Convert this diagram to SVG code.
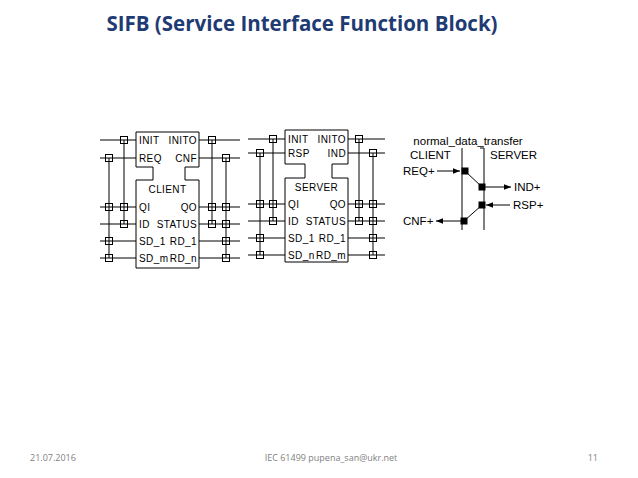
<svg xmlns="http://www.w3.org/2000/svg" width="638" height="478" viewBox="0 0 638 478">
<style>
.l{stroke:#000;stroke-width:1;fill:none}
.s{stroke:#000;stroke-width:1;fill:none}
.t{font-family:"Liberation Sans",Arial,sans-serif;font-size:10px;letter-spacing:0.4px;fill:#000}
.t2{font-family:"Liberation Sans",Arial,sans-serif;font-size:11.5px;fill:#000}
.ft{font-family:"Open Sans","Liberation Sans",sans-serif;font-size:9px;fill:#7f7f7f}
</style>
<defs>
<marker id="ar" viewBox="0 0 10 10" refX="10" refY="5" markerWidth="7" markerHeight="7" orient="auto"><path d="M0,1 L10,5 L0,9z" fill="#000"/></marker>
<rect id="sq" x="-3.5" y="-3.5" width="7" height="7" class="s"/>
<rect id="bq" x="-3.5" y="-3.5" width="7" height="7" fill="#000"/>
</defs>
<rect width="638" height="478" fill="#fff"/>
<text x="302" y="31" text-anchor="middle" font-family="Open Sans,Liberation Sans,sans-serif" font-size="20.5" font-weight="bold" fill="#1f3b73">SIFB (Service Interface Function Block)</text>

<g id="client">
<path class="l" d="M136,132 H199 V167 H185 V180 H199 V268 H136 V180 H153 V167 H136 Z"/>
<text class="t" x="139" y="143.5">INIT</text><text class="t" x="197" y="143.5" text-anchor="end">INITO</text>
<text class="t" x="139" y="161.5">REQ</text><text class="t" x="197" y="161.5" text-anchor="end">CNF</text>
<text class="t" x="167.5" y="193" text-anchor="middle">CLIENT</text>
<text class="t" x="139" y="210.5">QI</text><text class="t" x="197" y="210.5" text-anchor="end">QO</text>
<text class="t" x="139" y="227.5">ID</text><text class="t" x="197" y="227.5" text-anchor="end">STATUS</text>
<text class="t" x="139" y="244.5">SD_1</text><text class="t" x="197" y="244.5" text-anchor="end">RD_1</text>
<text class="t" x="139" y="261.5">SD_m</text><text class="t" x="197" y="261.5" text-anchor="end">RD_n</text>
</g>
<g id="client-wires">
<path class="l" d="M100,140H136M100,158H136M100,207H136M100,224H136M100,241H136M100,258H136M109,158V258M124,140V224"/>
<path class="l" d="M199,140H240M199,158H240M199,207H240M199,224H240M199,241H240M199,258H240M212,140V224M226,158V258"/>
<use href="#sq" x="124" y="140"/><use href="#sq" x="109" y="158"/><use href="#sq" x="109" y="207"/><use href="#sq" x="124" y="207"/><use href="#sq" x="124" y="224"/><use href="#sq" x="109" y="241"/><use href="#sq" x="109" y="258"/>
<use href="#sq" x="212" y="140"/><use href="#sq" x="226" y="158"/><use href="#sq" x="212" y="207"/><use href="#sq" x="226" y="207"/><use href="#sq" x="212" y="224"/><use href="#sq" x="226" y="224"/><use href="#sq" x="226" y="241"/><use href="#sq" x="226" y="258"/>
</g>

<g id="server">
<path class="l" d="M285,130 H348 V164 H332 V178 H348 V262 H285 V178 H305 V164 H285 Z"/>
<text class="t" x="288" y="142.5">INIT</text><text class="t" x="346" y="142.5" text-anchor="end">INITO</text>
<text class="t" x="288" y="156.5">RSP</text><text class="t" x="346" y="156.5" text-anchor="end">IND</text>
<text class="t" x="316.5" y="191" text-anchor="middle">SERVER</text>
<text class="t" x="288" y="207.5">QI</text><text class="t" x="346" y="207.5" text-anchor="end">QO</text>
<text class="t" x="288" y="224.5">ID</text><text class="t" x="346" y="224.5" text-anchor="end">STATUS</text>
<text class="t" x="288" y="241.5">SD_1</text><text class="t" x="346" y="241.5" text-anchor="end">RD_1</text>
<text class="t" x="288" y="258.5">SD_n</text><text class="t" x="346" y="258.5" text-anchor="end">RD_m</text>
</g>
<g id="server-wires">
<path class="l" d="M248,139H285M248,153H285M248,204H285M248,221H285M248,238H285M248,255H285M260,153V255M273,139V221"/>
<path class="l" d="M348,139H385M348,153H385M348,204H385M348,221H385M348,238H385M348,255H385M359,139V221M373,153V255"/>
<use href="#sq" x="273" y="139"/><use href="#sq" x="260" y="153"/><use href="#sq" x="260" y="204"/><use href="#sq" x="273" y="204"/><use href="#sq" x="273" y="221"/><use href="#sq" x="260" y="238"/><use href="#sq" x="260" y="255"/>
<use href="#sq" x="359" y="139"/><use href="#sq" x="373" y="153"/><use href="#sq" x="359" y="204"/><use href="#sq" x="373" y="204"/><use href="#sq" x="359" y="221"/><use href="#sq" x="373" y="221"/><use href="#sq" x="373" y="238"/><use href="#sq" x="373" y="255"/>
</g>

<g id="sequence">
<text class="t2" x="468" y="145" text-anchor="middle">normal_data_transfer</text>
<text class="t2" x="410" y="159">CLIENT</text>
<text class="t2" x="490" y="159">SERVER</text>
<path class="l" d="M462,148V230M484,230V148H480"/>
<text class="t2" x="403" y="175">REQ+</text>
<path class="l" d="M437,171H460" marker-end="url(#ar)"/>
<path class="l" d="M465,171L482,187M482,205L464,221"/>
<use href="#bq" x="465" y="171"/><use href="#bq" x="482" y="187"/><use href="#bq" x="482" y="205"/><use href="#bq" x="464" y="221"/>
<path class="l" d="M484,187H511" marker-end="url(#ar)"/>
<text class="t2" x="514" y="191">IND+</text>
<path class="l" d="M510,205H486" marker-end="url(#ar)"/>
<text class="t2" x="513" y="209">RSP+</text>
<path class="l" d="M462,221H436" marker-end="url(#ar)"/>
<text class="t2" x="403" y="225">CNF+</text>
</g>

<text class="ft" x="30" y="461">21.07.2016</text>
<text class="ft" x="331" y="461" text-anchor="middle">IEC 61499 pupena_san@ukr.net</text>
<text class="ft" x="598" y="461" text-anchor="end">11</text>
</svg>
